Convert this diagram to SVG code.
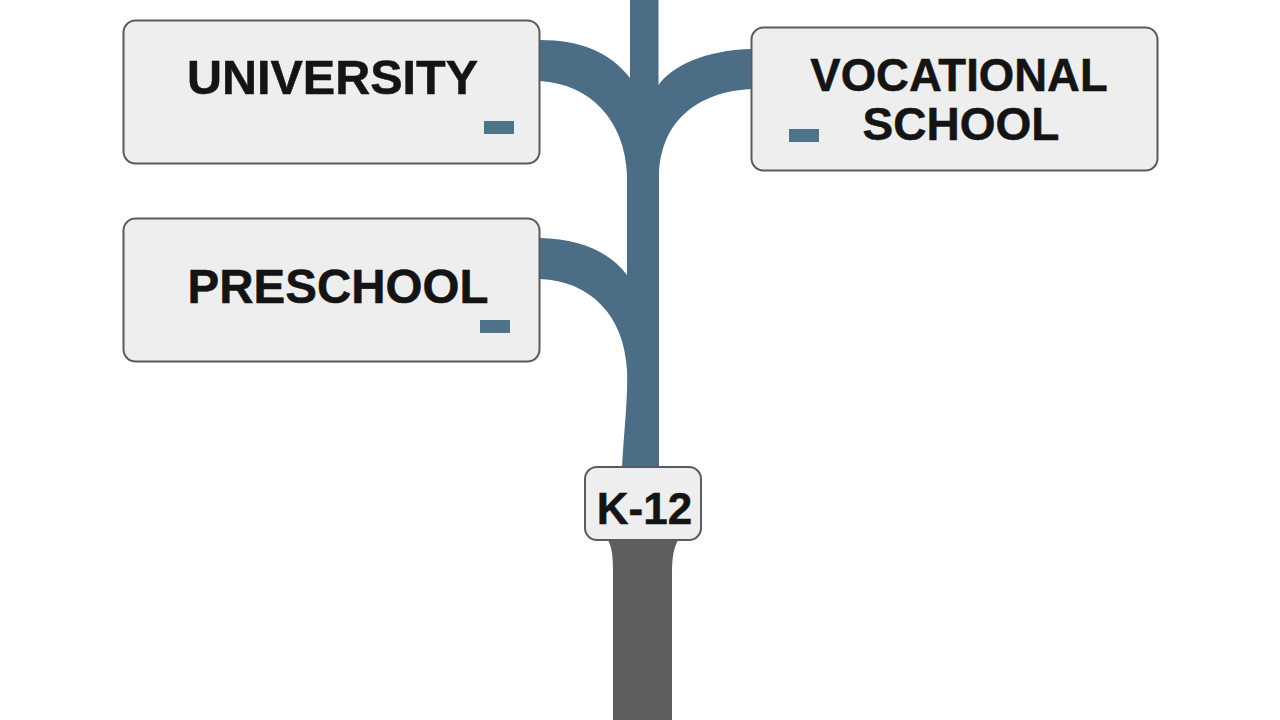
<svg xmlns="http://www.w3.org/2000/svg" width="1280" height="720" viewBox="0 0 1280 720">
<style>
.box{fill:#eeeeef;stroke:#565c61;stroke-width:2}
.dash{fill:#4f7389}
.lbl{font-family:"Liberation Sans",Arial,sans-serif;font-weight:700;fill:#141414;text-anchor:middle;stroke:#141414;stroke-width:.5}
.branch{fill:#4c6d86}
</style>
<rect width="1280" height="720" fill="#fff"/>
<g id="connectors">
<path class="branch" d="M630 0H658.500V85C672 66 705 50 752 49V89C705 91 661 115 659 175V467H622C624 430 628 400 627 370C624 315 590 281 540 279V238C580 239 610 252 627 275V175C625 120 590 84 540 81V40C580 40 610 52 630 78Z"/>
<path d="M608 540H678C674 548 672 556 672 572V720H613V572C613 556 612 548 608 540Z" fill="#5e5e5e"/>
</g>
<g id="university"><rect class="box" x="123.500" y="20.500" width="416" height="143" rx="12"/><text class="lbl" x="332.500" y="94" font-size="48.500">UNIVERSITY</text><rect class="dash" x="484" y="121" width="30" height="13"/></g>
<g id="vocational"><rect class="box" x="751.500" y="27.500" width="406" height="143" rx="12"/><text class="lbl" x="959" y="91" font-size="45.500">VOCATIONAL</text><text class="lbl" x="961" y="140" font-size="46">SCHOOL</text><rect class="dash" x="789" y="129" width="30" height="13"/></g>
<g id="preschool"><rect class="box" x="123.500" y="218.500" width="416" height="143" rx="12"/><text class="lbl" x="338" y="303" font-size="47.500">PRESCHOOL</text><rect class="dash" x="480" y="320" width="30" height="13"/></g>
<g id="k12"><rect class="box" x="585" y="467" width="116" height="73" rx="12"/><text class="lbl" x="644.500" y="524" font-size="44">K-12</text></g>
</svg>
